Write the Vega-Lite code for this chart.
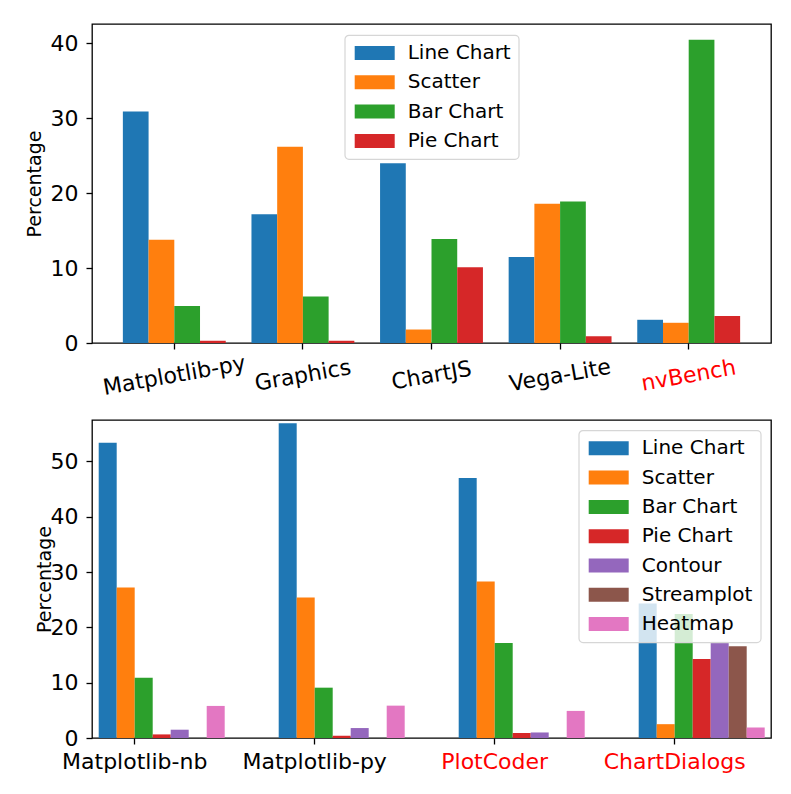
{
  "$schema": "https://vega.github.io/schema/vega-lite/v6.json",
  "background": "white",
  "padding": {"left": 24, "top": 23, "right": 5, "bottom": 5},
  "spacing": 77,
  "bounds": "flush",
  "config": {
    "font": "DejaVu Sans",
    "view": {"stroke": "black", "strokeWidth": 1.3},
    "axis": {
      "domain": false, "grid": false,
      "tickColor": "black", "tickWidth": 1.3, "tickSize": 6,
      "labelColor": "black", "labelFont": "DejaVu Sans", "labelFontSize": 22,
      "titleFont": "DejaVu Sans", "titleFontSize": 19, "titleFontWeight": "normal", "titleColor": "black"
    },
    "legend": {
      "orient": "none", "title": null,
      "symbolType": "M-2.5,-0.875H2.5V0.875H-2.5Z", "symbolSize": 256,
      "symbolStrokeWidth": 0, "symbolOpacity": 1, "symbolOffset": 12,
      "labelOffset": 23, "labelFont": "DejaVu Sans", "labelFontSize": 20, "labelColor": "black",
      "rowPadding": 9.3, "padding": 8,
      "fillColor": "rgba(255,255,255,0.8)", "strokeColor": "#d6d6d6", "strokeWidth": 1.2, "cornerRadius": 4
    }
  },
  "datasets": {
    "tools": [
      {"source": "Matplotlib-py", "type": "Line Chart", "pct": 30.9},
      {"source": "Matplotlib-py", "type": "Scatter", "pct": 13.8},
      {"source": "Matplotlib-py", "type": "Bar Chart", "pct": 4.95},
      {"source": "Matplotlib-py", "type": "Pie Chart", "pct": 0.3},
      {"source": "Graphics", "type": "Line Chart", "pct": 17.2},
      {"source": "Graphics", "type": "Scatter", "pct": 26.2},
      {"source": "Graphics", "type": "Bar Chart", "pct": 6.2},
      {"source": "Graphics", "type": "Pie Chart", "pct": 0.3},
      {"source": "ChartJS", "type": "Line Chart", "pct": 24.0},
      {"source": "ChartJS", "type": "Scatter", "pct": 1.8},
      {"source": "ChartJS", "type": "Bar Chart", "pct": 13.9},
      {"source": "ChartJS", "type": "Pie Chart", "pct": 10.1},
      {"source": "Vega-Lite", "type": "Line Chart", "pct": 11.5},
      {"source": "Vega-Lite", "type": "Scatter", "pct": 18.6},
      {"source": "Vega-Lite", "type": "Bar Chart", "pct": 18.9},
      {"source": "Vega-Lite", "type": "Pie Chart", "pct": 0.9},
      {"source": "nvBench", "type": "Line Chart", "pct": 3.1},
      {"source": "nvBench", "type": "Scatter", "pct": 2.7},
      {"source": "nvBench", "type": "Bar Chart", "pct": 40.5},
      {"source": "nvBench", "type": "Pie Chart", "pct": 3.6}
    ],
    "corpora": [
      {"source": "Matplotlib-nb", "type": "Line Chart", "pct": 53.4},
      {"source": "Matplotlib-nb", "type": "Scatter", "pct": 27.2},
      {"source": "Matplotlib-nb", "type": "Bar Chart", "pct": 10.9},
      {"source": "Matplotlib-nb", "type": "Pie Chart", "pct": 0.65},
      {"source": "Matplotlib-nb", "type": "Contour", "pct": 1.5},
      {"source": "Matplotlib-nb", "type": "Streamplot", "pct": 0},
      {"source": "Matplotlib-nb", "type": "Heatmap", "pct": 5.8},
      {"source": "Matplotlib-py", "type": "Line Chart", "pct": 56.9},
      {"source": "Matplotlib-py", "type": "Scatter", "pct": 25.4},
      {"source": "Matplotlib-py", "type": "Bar Chart", "pct": 9.1},
      {"source": "Matplotlib-py", "type": "Pie Chart", "pct": 0.4},
      {"source": "Matplotlib-py", "type": "Contour", "pct": 1.8},
      {"source": "Matplotlib-py", "type": "Streamplot", "pct": 0},
      {"source": "Matplotlib-py", "type": "Heatmap", "pct": 5.85},
      {"source": "PlotCoder", "type": "Line Chart", "pct": 47.0},
      {"source": "PlotCoder", "type": "Scatter", "pct": 28.3},
      {"source": "PlotCoder", "type": "Bar Chart", "pct": 17.2},
      {"source": "PlotCoder", "type": "Pie Chart", "pct": 0.9},
      {"source": "PlotCoder", "type": "Contour", "pct": 1.0},
      {"source": "PlotCoder", "type": "Streamplot", "pct": 0},
      {"source": "PlotCoder", "type": "Heatmap", "pct": 4.9},
      {"source": "ChartDialogs", "type": "Line Chart", "pct": 24.3},
      {"source": "ChartDialogs", "type": "Scatter", "pct": 2.5},
      {"source": "ChartDialogs", "type": "Bar Chart", "pct": 22.4},
      {"source": "ChartDialogs", "type": "Pie Chart", "pct": 14.3},
      {"source": "ChartDialogs", "type": "Contour", "pct": 17.4},
      {"source": "ChartDialogs", "type": "Streamplot", "pct": 16.6},
      {"source": "ChartDialogs", "type": "Heatmap", "pct": 1.9}
    ]
  },
  "vconcat": [
    {
      "data": {"name": "tools"},
      "width": 679,
      "height": 319,
      "mark": {"type": "bar"},
      "encoding": {
        "x": {
          "field": "source", "type": "nominal",
          "scale": {"domain": ["Matplotlib-py", "Graphics", "ChartJS", "Vega-Lite", "nvBench"], "paddingInner": 0.2, "paddingOuter": 0.24},
          "axis": {
            "title": null, "labelAngle": -10, "labelAlign": "center", "labelBaseline": "middle", "labelPadding": 26,
            "labelColor": {"condition": {"test": "datum.value === 'nvBench'", "value": "red"}, "value": "black"}
          }
        },
        "xOffset": {
          "field": "type", "type": "nominal",
          "scale": {"domain": ["Line Chart", "Scatter", "Bar Chart", "Pie Chart"], "paddingInner": 0, "paddingOuter": 0}
        },
        "y": {
          "field": "pct", "type": "quantitative",
          "scale": {"domain": [0, 42.6], "nice": false},
          "axis": {"title": "Percentage", "values": [0, 10, 20, 30, 40], "labelPadding": 8, "titlePadding": 6}
        },
        "color": {
          "field": "type", "type": "nominal",
          "scale": {"domain": ["Line Chart", "Scatter", "Bar Chart", "Pie Chart"], "range": ["#1f77b4", "#ff7f0e", "#2ca02c", "#d62728"]},
          "legend": {"legendX": 252.7, "legendY": 11}
        }
      }
    },
    {
      "data": {"name": "corpora"},
      "width": 679,
      "height": 318,
      "mark": {"type": "bar"},
      "encoding": {
        "x": {
          "field": "source", "type": "nominal",
          "scale": {"domain": ["Matplotlib-nb", "Matplotlib-py", "PlotCoder", "ChartDialogs"], "range": [-47.3, 672.7], "paddingInner": 0, "paddingOuter": 0},
          "axis": {
            "title": null, "labelAngle": 0, "labelPadding": 7,
            "labelColor": {"condition": {"test": "datum.value === 'PlotCoder' || datum.value === 'ChartDialogs'", "value": "red"}, "value": "black"}
          }
        },
        "xOffset": {
          "field": "type", "type": "nominal",
          "scale": {"domain": ["slot1", "slot2", "slot3", "Line Chart", "Scatter", "Bar Chart", "Pie Chart", "Contour", "Streamplot", "Heatmap"], "paddingInner": 0, "paddingOuter": 0}
        },
        "y": {
          "field": "pct", "type": "quantitative",
          "scale": {"domain": [0, 57.5], "nice": false},
          "axis": {"title": "Percentage", "values": [0, 10, 20, 30, 40, 50], "labelPadding": 8, "titlePadding": -4}
        },
        "color": {
          "field": "type", "type": "nominal",
          "scale": {"domain": ["Line Chart", "Scatter", "Bar Chart", "Pie Chart", "Contour", "Streamplot", "Heatmap"], "range": ["#1f77b4", "#ff7f0e", "#2ca02c", "#d62728", "#9467bd", "#8c564b", "#e377c2"]},
          "legend": {"legendX": 486.7, "legendY": 10.3}
        }
      }
    }
  ],
  "resolve": {
    "scale": {"x": "independent", "y": "independent", "xOffset": "independent", "color": "independent"},
    "legend": {"color": "independent"}
  }
}
